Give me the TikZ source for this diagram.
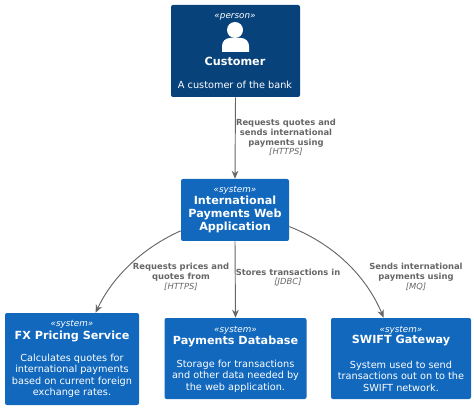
\documentclass[tikz,border=0pt]{standalone}
\usepackage{fontspec}
\setmainfont{DejaVu Sans}
\definecolor{personblue}{HTML}{08427B}
\definecolor{systemblue}{HTML}{1168BD}
\definecolor{linkgray}{HTML}{666666}
\tikzset{
  c4box/.style={inner sep=0pt, rounded corners=1.5pt},
  stereo/.style={white, font=\fontsize{6.6}{8}\selectfont\itshape},
  title/.style={white, align=center, font=\fontsize{8.4}{9.5}\selectfont\bfseries},
  descr/.style={white, align=center, font=\fontsize{7.3}{8.6}\selectfont},
  linktext/.style={linkgray, align=center, font=\fontsize{6.3}{7.3}\selectfont\bfseries},
  linktech/.style={linkgray, font=\fontsize{6.3}{7.3}\selectfont\itshape},
  link/.style={linkgray, line width=0.7pt, -{Stealth[length=6pt,width=5pt]}},
}
\usetikzlibrary{arrows.meta}
\begin{document}
\begin{tikzpicture}[x=0.75pt, y=-0.75pt]
    \useasboundingbox (0, 0) rectangle (474, 409);

    % ----------------------------------------------------
    % 1. Customer
    % ----------------------------------------------------
    \node[c4box, fill=personblue, minimum width=129*0.75pt, minimum height=92*0.75pt] (customer) at (235.5, 51) {};
    \node[stereo] (customerstereo) at (235, 17) {«person»};
    \fill[white] (235, 30) circle (8);
    \fill[white] (222, 52) [rounded corners=6pt] -- (222, 38) -- (249, 38) [sharp corners] -- (249, 52) -- cycle;
    \node[title] (customertitle) at (235, 61) {Customer};
    \node[descr] (customerdescr) at (235, 85) {A customer of the bank};

    % ----------------------------------------------------
    % 2. Web application
    % ----------------------------------------------------
    \node[c4box, fill=systemblue, minimum width=108*0.75pt, minimum height=62*0.75pt] (web) at (235, 210) {};
    \node[stereo] (webstereo) at (235, 190) {«system»};
    \node[title] (webtitle) at (235, 214.5) {International\\Payments Web\\Application};

    % ----------------------------------------------------
    % 3. Systems below
    % ----------------------------------------------------
    \node[c4box, fill=systemblue, minimum width=134*0.75pt, minimum height=92*0.75pt] (fx) at (72, 359) {};
    \node[stereo] (fxstereo) at (72, 324) {«system»};
    \node[title] (fxtitle) at (72, 336) {FX Pricing Service};
    \node[descr] (fxdescr) at (72, 376) {Calculates quotes for\\international payments\\based on current foreign\\exchange rates.};

    \node[c4box, fill=systemblue, minimum width=142*0.75pt, minimum height=81*0.75pt] (db) at (235.5, 358.5) {};
    \node[stereo] (dbstereo) at (235.5, 330) {«system»};
    \node[title] (dbtitle) at (235.5, 341) {Payments Database};
    \node[descr] (dbdescr) at (235.5, 376) {Storage for transactions\\and other data needed by\\the web application.};

    \node[c4box, fill=systemblue, minimum width=140*0.75pt, minimum height=81*0.75pt] (swift) at (401, 358.5) {};
    \node[stereo] (swiftstereo) at (401, 330) {«system»};
    \node[title] (swifttitle) at (401, 341) {SWIFT Gateway};
    \node[descr] (swiftdescr) at (401, 376) {System used to send\\transactions out on to the\\SWIFT network.};

    % ----------------------------------------------------
    % 4. Connectors
    % ----------------------------------------------------
    \draw[link] (customer.south) -- (web.north);
    \draw[link] (web.201) .. controls +(-36, 16) and +(18, -38) .. (fx.63);
    \draw[link] (web.south) -- (db.north);
    \draw[link] (web.-17) .. controls +(41, 16) and +(-19, -45) .. (swift.113);

    \node[linktext] (quotes) at (286, 133) {Requests quotes and\\sends international\\payments using};
    \node[linktech] (quotestech) at (286, 152) {[HTTPS]};
    \node[linktext] (prices) at (181, 272) {Requests prices and\\quotes from};
    \node[linktech] (pricestech) at (181, 287) {[HTTPS]};
    \node[linktext] (stores) at (288, 272) {Stores transactions in};
    \node[linktech] (storestech) at (288, 282) {[JDBC]};
    \node[linktext] (sends) at (416, 272) {Sends international\\payments using};
    \node[linktech] (sendstech) at (416, 287) {[MQ]};
\end{tikzpicture}
\end{document}
